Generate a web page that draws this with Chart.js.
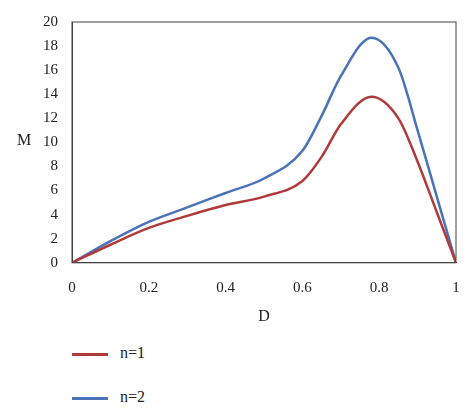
<!DOCTYPE html>
<html>
<head>
<meta charset="utf-8">
<script src="https://cdn.jsdelivr.net/npm/chart.js@4/dist/chart.umd.min.js"></script>
<style>
  body { margin: 0; background: #fff; font-family: "Liberation Serif", serif; }
  #wrap { position: relative; width: 474px; height: 418px; }
  #c { position: absolute; left: 0; top: 0; }
  .lab { position: absolute; font-size: 16px; color: #222; }
  .leg { position: absolute; left: 72px; width: 36px; height: 0; border-top: 3px solid; }
</style>
</head>
<body>
<div id="wrap">
  <canvas id="c" width="474" height="330"></canvas>
  <span class="lab" style="left:17px;top:131px">M</span>
  <div class="leg" style="top:353px;border-color:#b03a3a"></div>
  <span class="lab" style="left:120px;top:344px">n=1</span>
  <div class="leg" style="top:397px;border-color:#4a72b8"></div>
  <span class="lab" style="left:120px;top:388px">n=2</span>
</div>
<script>
const dValues = [0, 0.1, 0.2, 0.3, 0.4, 0.5, 0.6, 0.65, 0.7, 0.78, 0.85, 0.9, 0.95, 1];
const n1Values = [0, 1.5, 2.9, 3.9, 4.8, 5.5, 6.8, 8.8, 11.5, 13.8, 12.0, 8.4, 4.2, 0];
const n2Values = [0, 1.8, 3.4, 4.6, 5.8, 7.0, 9.3, 12.2, 15.5, 18.7, 16.2, 11.0, 5.5, 0];
const xTicks = [0, 0.2, 0.4, 0.6, 0.8, 1];

const frame = {
  id: 'frame',
  afterDraw(chart) {
    const a = chart.chartArea, ctx = chart.ctx;
    ctx.save();
    ctx.strokeStyle = '#444';
    ctx.lineWidth = 1;
    ctx.strokeRect(a.left, a.top, a.right - a.left, a.bottom - a.top);
    ctx.restore();
  }
};

const toPts = vals => dValues.map((d, i) => ({ x: d, y: vals[i] }));

new Chart(document.getElementById('c'), {
  type: 'line',
  data: {
    datasets: [
      { label: 'n=1', data: toPts(n1Values), borderColor: '#b03a3a', borderWidth: 2.5 },
      { label: 'n=2', data: toPts(n2Values), borderColor: '#4a72b8', borderWidth: 2.5 }
    ]
  },
  options: {
    responsive: false,
    animation: false,
    layout: { padding: { left: 37, right: 18, top: 22 } },
    elements: { point: { radius: 0 }, line: { cubicInterpolationMode: 'monotone' } },
    plugins: { legend: { display: false }, tooltip: { enabled: false } },
    scales: {
      x: {
        type: 'linear', min: 0, max: 1,
        afterBuildTicks: s => { s.ticks = xTicks.map(v => ({ value: v })); },
        grid: { display: false },
        border: { color: '#444' },
        ticks: { color: '#222', font: { family: 'Liberation Serif', size: 15 }, padding: 8,
                 callback: v => String(v) },
        title: { display: true, text: 'D', color: '#222', font: { family: 'Liberation Serif', size: 16 }, padding: { top: 2 } }
      },
      y: {
        min: 0, max: 20,
        grid: { display: false },
        border: { color: '#444' },
        ticks: { stepSize: 2, color: '#222', font: { family: 'Liberation Serif', size: 15 }, padding: 6 }
      }
    }
  },
  plugins: [frame]
});
</script>
</body>
</html>
